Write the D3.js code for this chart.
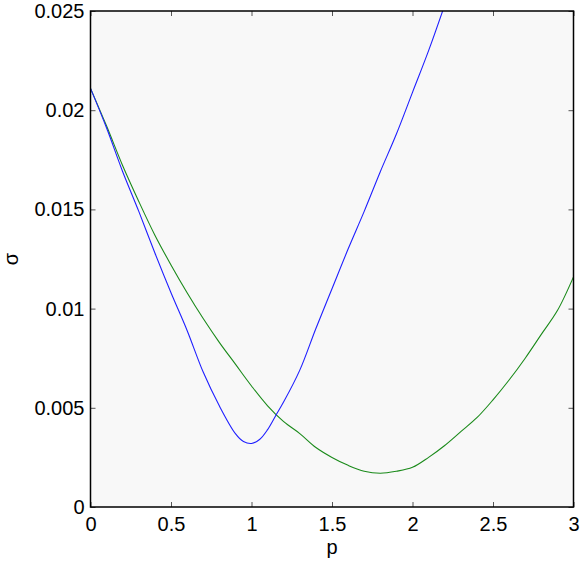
<!DOCTYPE html>
<html>
<head>
<meta charset="utf-8">
<script src="https://cdn.jsdelivr.net/npm/d3@7"></script>
<style>
  body { margin: 0; background: #fff; }
  text { font-family: "Liberation Sans", Arial, sans-serif; }
</style>
</head>
<body>
<svg id="chart" width="583" height="565"></svg>
<script>
// values
const pValues = [0, 0.1, 0.2, 0.3, 0.4, 0.5, 0.6, 0.7, 0.8, 0.9, 1.0, 1.1, 1.2, 1.3, 1.4, 1.5,
                 1.6, 1.7, 1.8, 1.9, 2.0, 2.1, 2.2, 2.3, 2.4, 2.5, 2.6, 2.7, 2.8, 2.9, 3.0]

const bluePs    = [0, 0.1, 0.2, 0.3, 0.4, 0.5, 0.6, 0.7, 0.8, 0.9, 0.95, 1.0, 1.05, 1.1, 1.15, 1.2,
                   1.3, 1.4, 1.5, 1.6, 1.7, 1.8, 1.9, 2.0, 2.1, 2.2]
const blueSigma = [0.0211, 0.0191, 0.0169, 0.0149, 0.0128, 0.0108, 0.0089, 0.0068, 0.0051, 0.0037,
                   0.0033, 0.0032, 0.0034, 0.0039, 0.0046, 0.0053, 0.0069, 0.0090, 0.0110, 0.0130,
                   0.0149, 0.0169, 0.0188, 0.0209, 0.0230, 0.0253]

const greenSigma = [0.0211, 0.0192, 0.0172, 0.0154, 0.0137, 0.0122, 0.0108, 0.0095, 0.0083, 0.0072,
                    0.0061, 0.0051, 0.0043, 0.0037, 0.0030, 0.0025, 0.0021, 0.0018, 0.0017, 0.0018,
                    0.0020, 0.0025, 0.0031, 0.0038, 0.0045, 0.0054, 0.0064, 0.0075, 0.0087, 0.0099, 0.0116]

const xTicks = [0, 0.5, 1, 1.5, 2, 2.5, 3]
const yTicks = [0, 0.005, 0.01, 0.015, 0.02, 0.025]
const yTickLabels = ["0", "0.005", "0.01", "0.015", "0.02", "0.025"]

const margin = {left: 90.5, top: 11, right: 9.5, bottom: 58}
const W = 583, H = 565
const svg = d3.select('#chart')

let xScale = d3.scaleLinear().domain([0, 3]).range([margin.left, W - margin.right])
let yScale = d3.scaleLinear().domain([0, 0.025]).range([H - margin.bottom, margin.top])

// plot background
svg.append('rect')
   .attr('x', xScale(0)).attr('y', yScale(0.025))
   .attr('width', xScale(3) - xScale(0))
   .attr('height', yScale(0) - yScale(0.025))
   .attr('fill', '#f8f8f8')

svg.append('clipPath').attr('id', 'clip')
   .append('rect')
   .attr('x', xScale(0)).attr('y', yScale(0.025))
   .attr('width', xScale(3) - xScale(0))
   .attr('height', yScale(0) - yScale(0.025))

// ticks, inside, on all four sides
const tickLen = 5
let xAxisB = d3.axisBottom(xScale).tickValues(xTicks).tickSize(-tickLen).tickPadding(10)
               .tickFormat(d3.format('~g'))
let xAxisT = d3.axisTop(xScale).tickValues(xTicks).tickSize(-tickLen).tickFormat('')
let yAxisL = d3.axisLeft(yScale).tickValues(yTicks).tickSize(-tickLen).tickPadding(6)
               .tickFormat((d, i) => yTickLabels[i])
let yAxisR = d3.axisRight(yScale).tickValues(yTicks).tickSize(-tickLen).tickFormat('')

const styleAxis = g => {
    g.select('.domain').remove()
    g.selectAll('.tick line').attr('stroke', '#555')
    g.selectAll('.tick text').attr('fill', '#000').style('font-size', '20px')
}

svg.append('g').attr('transform', `translate(0, ${yScale(0)})`).call(xAxisB).call(styleAxis)
svg.append('g').attr('transform', `translate(0, ${yScale(0.025)})`).call(xAxisT).call(styleAxis)
svg.append('g').attr('transform', `translate(${xScale(0)}, 0)`).call(yAxisL).call(styleAxis)
svg.append('g').attr('transform', `translate(${xScale(3)}, 0)`).call(yAxisR).call(styleAxis)

// lines
let line = d3.line()
    .x(d => xScale(d[0]))
    .y(d => yScale(d[1]))
    .curve(d3.curveCatmullRom)

svg.append('g').attr('clip-path', 'url(#clip)')
   .append('path')
   .datum(pValues.map((p, i) => [p, greenSigma[i]]))
   .attr('d', line)
   .attr('fill', 'none')
   .attr('stroke', '#1a8a1a')
   .attr('stroke-width', 1.1)

svg.append('g').attr('clip-path', 'url(#clip)')
   .append('path')
   .datum(bluePs.map((p, i) => [p, blueSigma[i]]))
   .attr('d', line)
   .attr('fill', 'none')
   .attr('stroke', '#1f1fff')
   .attr('stroke-width', 1.1)

// frame
svg.append('rect')
   .attr('x', xScale(0)).attr('y', yScale(0.025))
   .attr('width', xScale(3) - xScale(0))
   .attr('height', yScale(0) - yScale(0.025))
   .attr('fill', 'none')
   .attr('stroke', '#000')
   .attr('stroke-width', 1.5)

// axis labels
svg.append('text')
   .attr('x', (xScale(0) + xScale(3)) / 2)
   .attr('y', 554)
   .attr('text-anchor', 'middle')
   .style('font-size', '20px')
   .text('p')

svg.append('text')
   .attr('transform', `translate(18, ${(yScale(0) + yScale(0.025)) / 2}) rotate(-90)`)
   .attr('text-anchor', 'middle')
   .style('font-size', '20px')
   .text('σ')
</script>
</body>
</html>
